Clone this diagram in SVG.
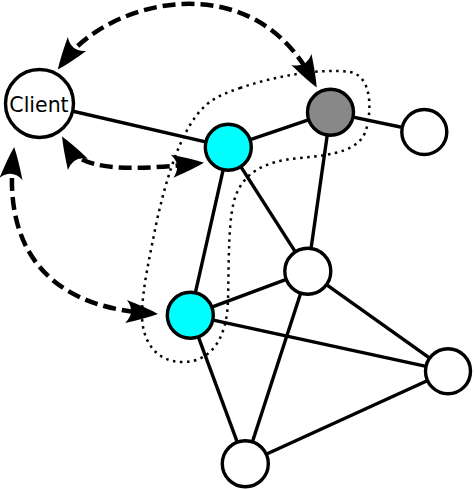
<svg xmlns="http://www.w3.org/2000/svg" width="474" height="489" viewBox="0 0 474 489">
<defs>
<style>
.edge{stroke:#000;stroke-width:3.4;fill:none}
.node{stroke:#000;stroke-width:3.4}
.w{fill:#fff}
.c{fill:#00ffff}
.g{fill:#888888}
.dash{stroke:#000;stroke-width:4.5;fill:none;stroke-dasharray:13 6}
.dot{stroke:#000;stroke-width:2.5;fill:none;stroke-dasharray:2.5 4.5}
.lbl{font-family:"DejaVu Sans",sans-serif;font-size:20.5px;fill:#000}
</style>
<marker id="ah" markerUnits="userSpaceOnUse" markerWidth="40" markerHeight="40" refX="0" refY="0" orient="auto-start-reverse" overflow="visible">
<path d="M12,0 Q1,-5 -20,-11.5 Q-10,0 -20,11.5 Q1,5 12,0 Z" fill="#000"/>
</marker>
</defs>
<rect width="474" height="489" fill="#fff"/>
<g id="connectors">
<line class="edge" x1="39.5" y1="103.5" x2="228.3" y2="147.2"/>
<line class="edge" x1="228.3" y1="147.2" x2="330.5" y2="112.3"/>
<line class="edge" x1="330.5" y1="112.3" x2="424.3" y2="132"/>
<line class="edge" x1="228.3" y1="147.2" x2="307.8" y2="271.3"/>
<line class="edge" x1="330.5" y1="112.3" x2="307.8" y2="271.3"/>
<line class="edge" x1="228.3" y1="147.2" x2="190.3" y2="315.2"/>
<line class="edge" x1="190.3" y1="315.2" x2="307.8" y2="271.3"/>
<line class="edge" x1="190.3" y1="315.2" x2="448" y2="371.2"/>
<line class="edge" x1="190.3" y1="315.2" x2="245.3" y2="463.8"/>
<line class="edge" x1="307.8" y1="271.3" x2="245.3" y2="463.8"/>
<line class="edge" x1="307.8" y1="271.3" x2="448" y2="371.2"/>
<line class="edge" x1="245.3" y1="463.8" x2="448" y2="371.2"/>
<path class="dot" d="M240,88 C275,76 320,68 350,72 C372,76 372,110 366,130 C360,150 335,155 300,158 C265,161 245,172 236,195 C228,215 229,260 228,300 C227,340 210,362 183,362 C155,362 142,340 142,315 C142,290 150,255 157,220 C165,185 175,150 190,125 C205,100 220,95 240,88 Z"/>
<path class="dash" d="M65,60 C110,0 250,-35 311,77" marker-start="url(#ah)" marker-end="url(#ah)"/>
<path class="dash" d="M68,147 C80,168 120,172 192,164" marker-start="url(#ah)" marker-end="url(#ah)"/>
<path class="dash" d="M13,159 C5,240 40,305 146,313" marker-start="url(#ah)" marker-end="url(#ah)"/>
</g>
<g id="client"><circle class="node w" cx="39.5" cy="103.5" r="34"/><text class="lbl" x="39" y="112" text-anchor="middle">Client</text></g>
<g id="n-cyan-top"><circle class="node c" cx="228.3" cy="147.2" r="23"/></g>
<g id="n-gray"><circle class="node g" cx="330.5" cy="112.3" r="23"/></g>
<g id="n-right"><circle class="node w" cx="424.3" cy="132" r="22.5"/></g>
<g id="n-mid"><circle class="node w" cx="307.8" cy="271.3" r="23"/></g>
<g id="n-cyan-bottom"><circle class="node c" cx="190.3" cy="315.2" r="23"/></g>
<g id="n-far-right"><circle class="node w" cx="448" cy="371.2" r="22.5"/></g>
<g id="n-bottom"><circle class="node w" cx="245.3" cy="463.8" r="23"/></g>
</svg>
